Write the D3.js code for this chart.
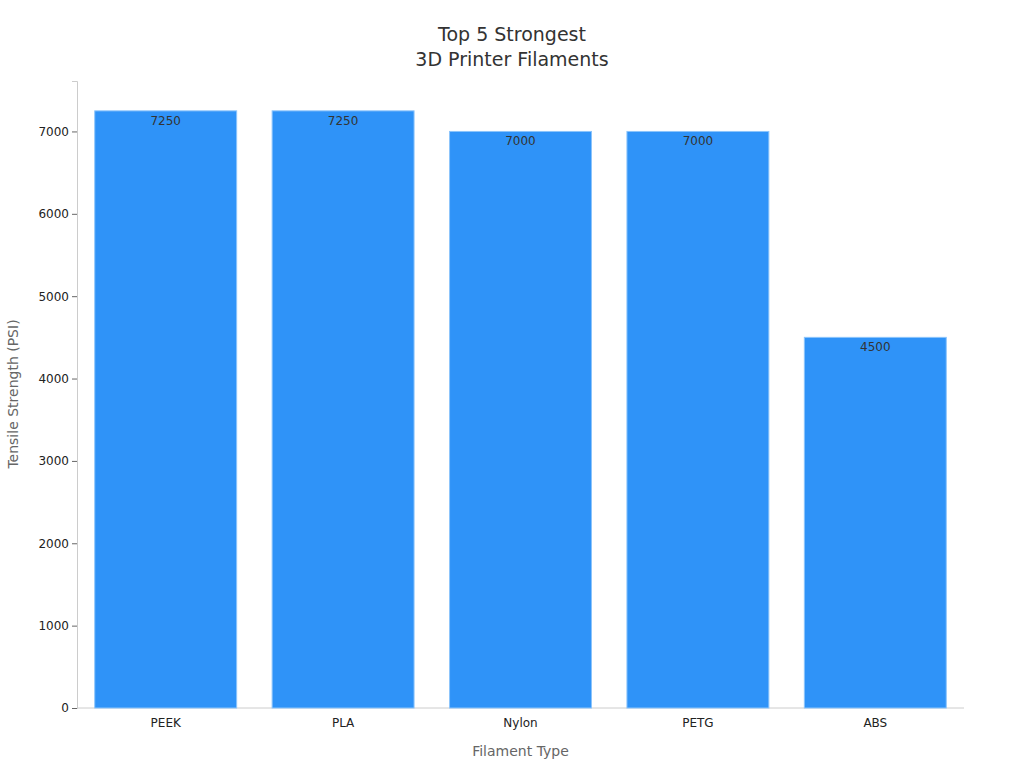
<!DOCTYPE html>
<html><head><meta charset="utf-8">
<script src="https://cdn.jsdelivr.net/npm/d3@7"></script>
<style>body{margin:0;background:#fff;font-family:"DejaVu Sans",sans-serif}</style>
</head><body><svg id="c" width="1024" height="768"></svg>
<script>
const categories = ["PEEK","PLA","Nylon","PETG","ABS"];
const values = [7250,7250,7000,7000,4500];
const yTicks = [0,1000,2000,3000,4000,5000,6000,7000];
const titleLines = ["Top 5 Strongest","3D Printer Filaments"];

const svg = d3.select("#c");
const m = {l:77, r:964, t:81, b:708};
const x = d3.scaleBand().domain(categories).range([m.l, m.r]).paddingInner(0.2).paddingOuter(0.1);
const y = d3.scaleLinear().domain([0, 7612.5]).range([m.b, m.t]);

svg.append("g").selectAll("text").data(titleLines).join("text")
  .attr("x",512).attr("y",(d,i)=>41+i*25).attr("text-anchor","middle")
  .attr("font-size",19).attr("fill","#333").text(d=>d);

const ya = svg.append("g").attr("transform",`translate(${m.l},0)`)
  .call(d3.axisLeft(y).tickValues(yTicks).tickFormat(d3.format("d")).tickSize(5).tickPadding(3));
ya.select(".domain").attr("stroke","#ccc");
ya.selectAll(".tick line").attr("stroke","#666");
ya.selectAll("text").attr("font-size",12).attr("fill","#222").attr("font-family","DejaVu Sans");

const xa = svg.append("g").attr("transform",`translate(0,${m.b})`)
  .call(d3.axisBottom(x).tickSize(0).tickPadding(10));
xa.select(".domain").attr("stroke","#ccc").attr("d",`M${m.l},0H${m.r}`);
xa.selectAll("text").attr("font-size",12).attr("fill","#222").attr("font-family","DejaVu Sans");

svg.append("g").selectAll("rect").data(values).join("rect")
  .attr("x",(d,i)=>x(categories[i])).attr("width",x.bandwidth())
  .attr("y",d=>y(d)).attr("height",d=>m.b-y(d))
  .attr("fill","#2f93f8").attr("stroke","#8cc4fb").attr("stroke-width",1);

svg.append("g").selectAll("text").data(values).join("text")
  .attr("x",(d,i)=>x(categories[i])+x.bandwidth()/2).attr("y",d=>y(d)+14)
  .attr("text-anchor","middle").attr("font-size",12).attr("fill","#333").text(d=>d);

svg.append("text").attr("x",(m.l+m.r)/2).attr("y",756).attr("text-anchor","middle")
  .attr("font-size",14).attr("fill","#666").text("Filament Type");
svg.append("text").attr("transform","translate(18,394) rotate(-90)").attr("text-anchor","middle")
  .attr("font-size",14).attr("fill","#666").text("Tensile Strength (PSI)");
</script></body></html>
